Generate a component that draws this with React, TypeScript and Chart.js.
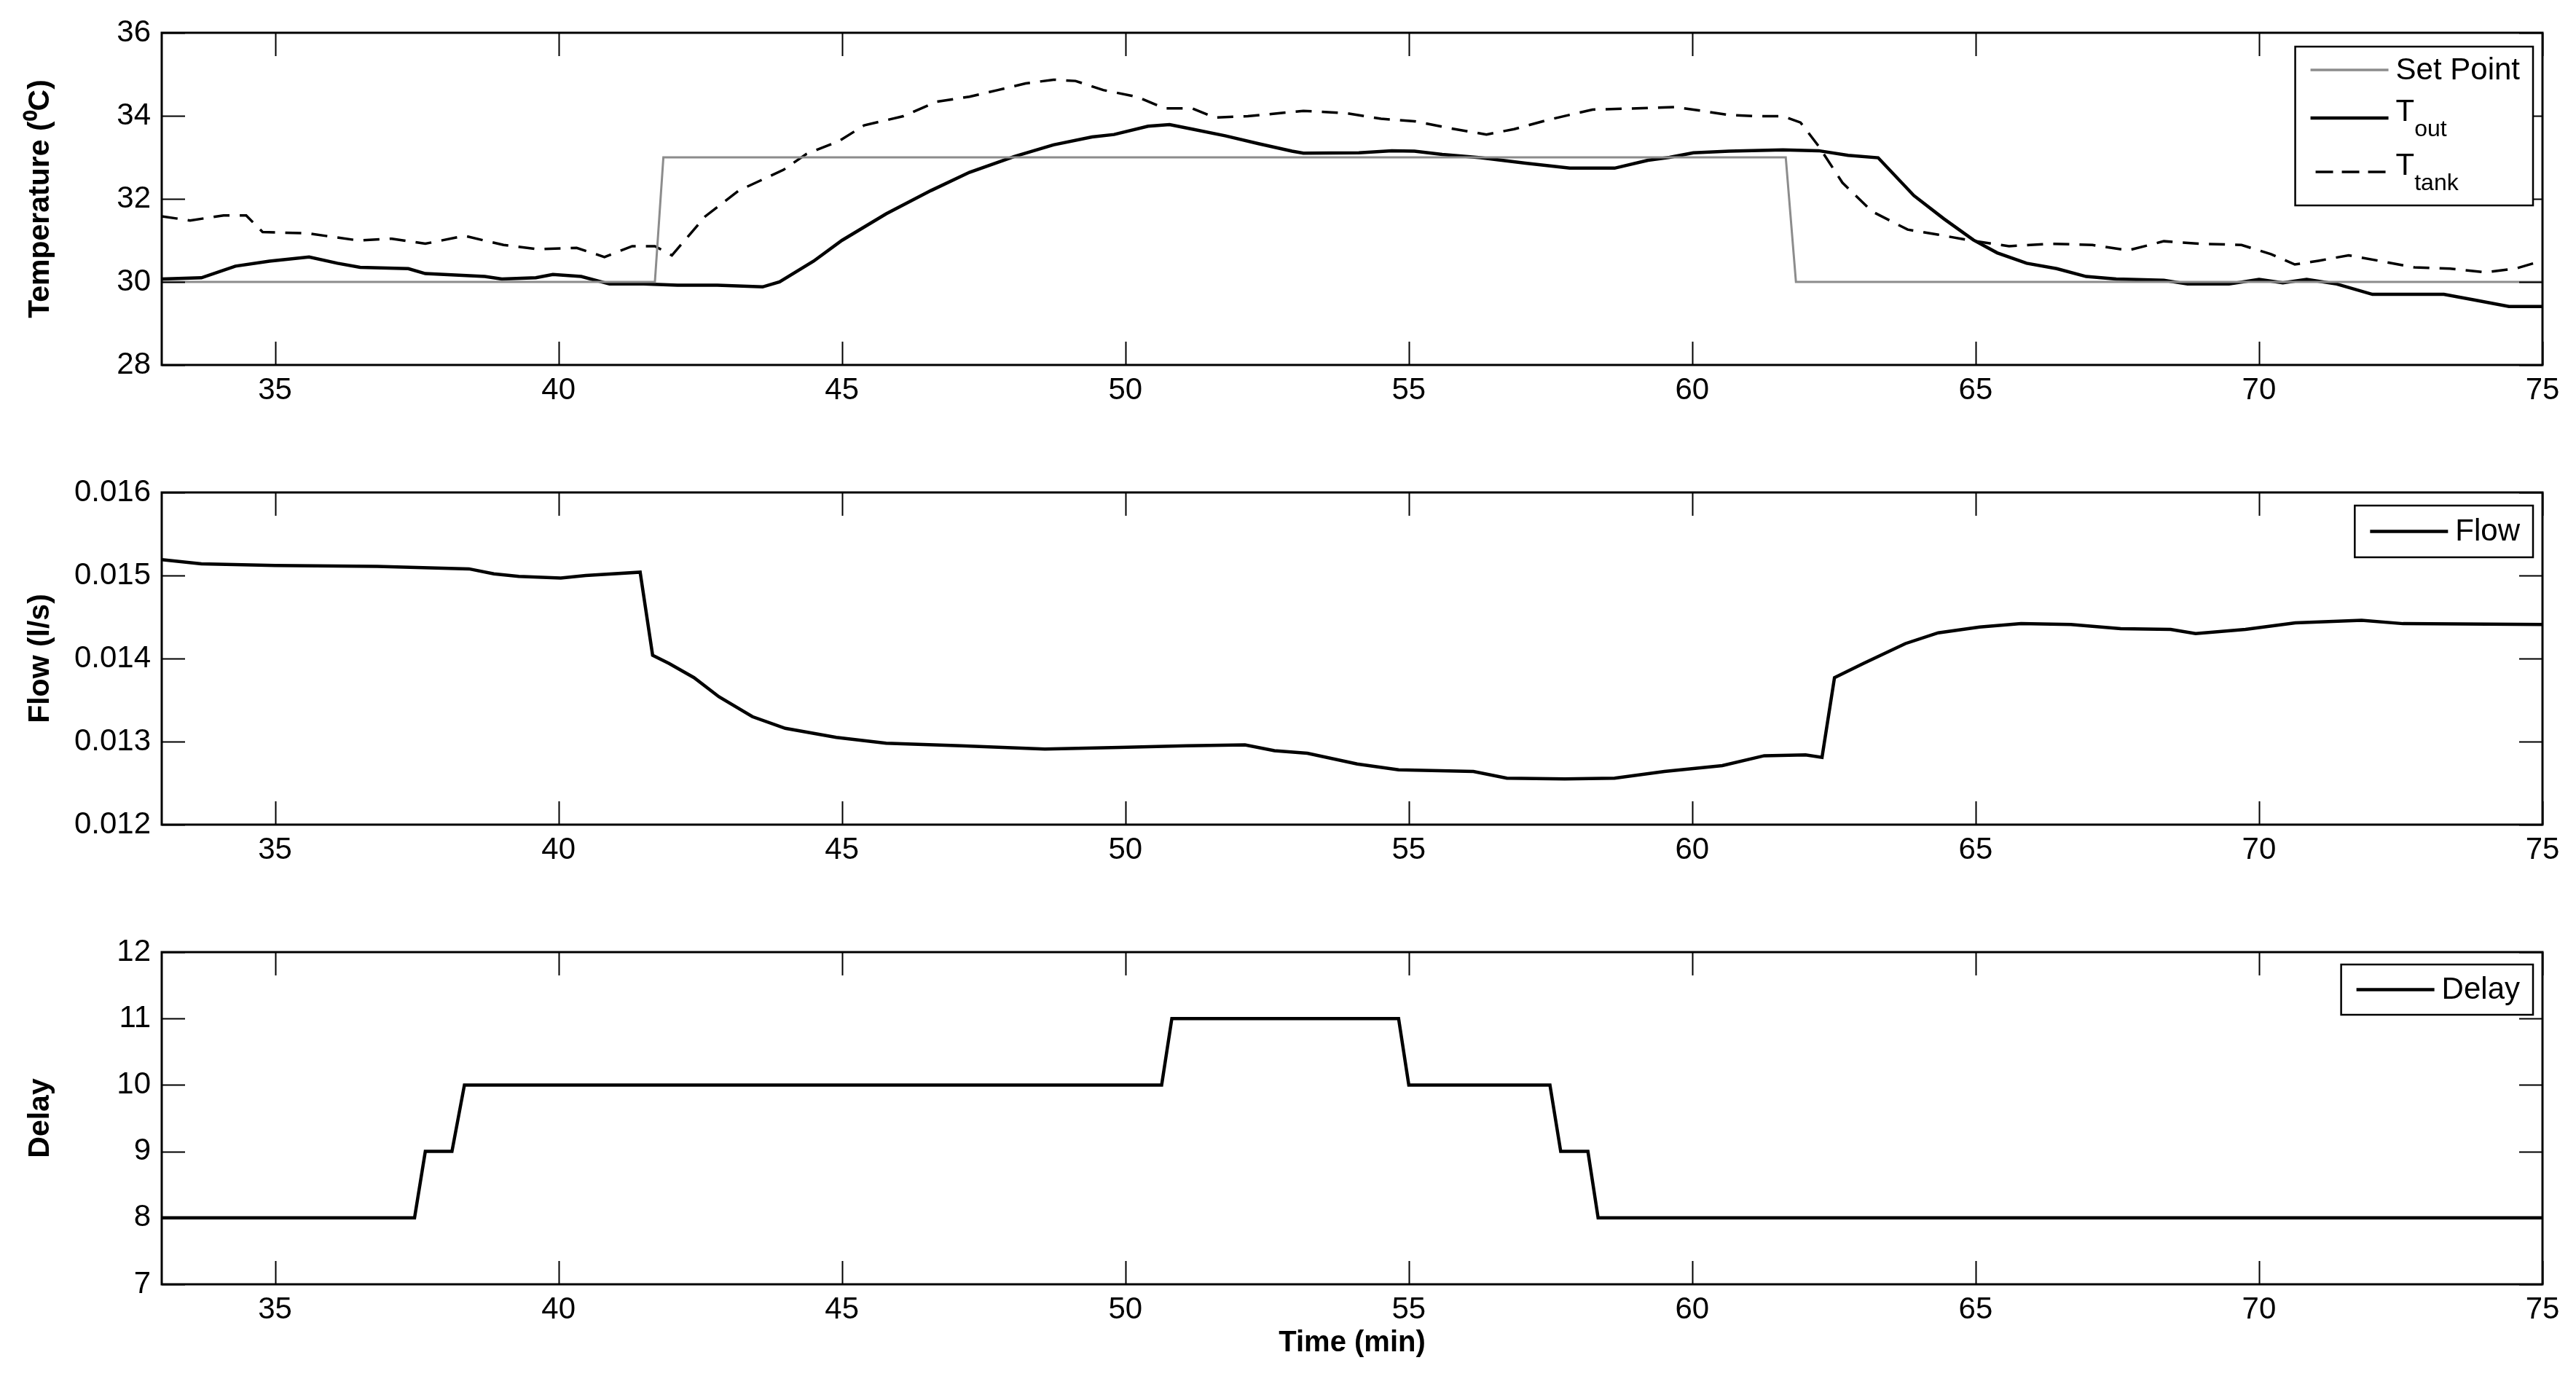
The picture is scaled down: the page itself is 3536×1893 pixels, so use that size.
import React, { useEffect, useRef } from "react";
import { Chart, registerables } from "chart.js";

Chart.register(...registerables);

// ---------- tick labels ----------
const timeTicks = [35, 40, 45, 50, 55, 60, 65, 70, 75];
const tempTicks = [28, 30, 32, 34, 36];
const flowTicks = [0.012, 0.013, 0.014, 0.015, 0.016];
const delayTicks = [7, 8, 9, 10, 11, 12];

// ---------- series ----------
const setPointTime = [33, 41.7, 41.85, 61.65, 61.83, 75];
const setPointVal = [30, 30, 33, 33, 30, 30];

const tOutTime = [
  33.0, 33.7, 34.3, 34.9, 35.6, 36.1, 36.5, 37.35, 37.65, 38.7, 39.0, 39.6, 39.9, 40.4, 40.9, 41.5,
  42.1, 42.8, 43.6, 43.9, 44.5, 45.0, 45.78, 46.57, 47.25, 48.04, 48.73, 49.41, 49.8, 50.4, 50.78,
  51.18, 51.76, 52.35, 52.94, 53.14, 54.12, 54.7, 55.1, 55.59, 56.27, 57.06, 57.84, 58.63, 59.22,
  59.6, 60.02, 60.65, 61.6, 62.23, 62.75, 63.28, 63.91, 64.44, 64.96, 65.38, 65.9, 66.43, 66.95,
  67.48, 68.32, 68.74, 69.47, 70.0, 70.42, 70.84, 71.37, 72.0, 73.26, 73.78, 74.41, 75.0,
];
const tOutVal = [
  30.07, 30.1, 30.38, 30.5, 30.6, 30.45, 30.35, 30.32, 30.2, 30.13, 30.07, 30.1, 30.18, 30.13, 29.95,
  29.95, 29.92, 29.92, 29.88, 30.0, 30.5, 31.0, 31.64, 32.2, 32.64, 33.02, 33.3, 33.49, 33.55, 33.75,
  33.79, 33.68, 33.52, 33.33, 33.15, 33.1, 33.11, 33.16, 33.15, 33.07, 32.99, 32.86, 32.74, 32.74,
  32.93, 33.0, 33.11, 33.15, 33.18, 33.16, 33.05, 32.99, 32.08, 31.52, 31.01, 30.7, 30.45, 30.32,
  30.13, 30.07, 30.04, 29.95, 29.95, 30.06, 29.98, 30.06, 29.95, 29.7, 29.7, 29.57, 29.41, 29.41,
];

const tTankTime = [
  33.0, 33.5, 34.09, 34.49, 34.78, 35.57, 36.46, 37.06, 37.65, 38.34, 39.03, 39.62, 40.32, 40.81,
  41.3, 41.7, 42.0, 42.59, 43.18, 43.97, 44.37, 44.96, 45.39, 46.08, 46.67, 47.25, 47.75, 48.24,
  48.73, 49.12, 49.61, 50.2, 50.69, 51.18, 51.57, 52.16, 53.14, 53.92, 54.51, 55.1, 55.69, 56.37,
  56.86, 57.45, 58.24, 59.02, 59.69, 60.02, 60.65, 61.18, 61.6, 61.91, 62.23, 62.65, 63.17, 63.8,
  64.33, 64.86, 65.59, 66.32, 67.06, 67.69, 68.32, 68.95, 69.69, 70.21, 70.63, 71.05, 71.58, 72.11,
  72.74, 73.37, 74.0, 74.52, 75.0,
];
const tTankVal = [
  31.58, 31.48, 31.6, 31.6, 31.2, 31.17, 31.0, 31.04, 30.92, 31.11, 30.89, 30.79, 30.82, 30.6, 30.86,
  30.86, 30.64, 31.58, 32.2, 32.7, 33.08, 33.4, 33.77, 33.99, 34.34, 34.46, 34.62, 34.78, 34.87,
  34.84, 34.62, 34.46, 34.18, 34.18, 33.96, 33.99, 34.12, 34.06, 33.93, 33.87, 33.71, 33.55, 33.68,
  33.9, 34.15, 34.18, 34.21, 34.15, 34.02, 33.99, 33.99, 33.84, 33.27, 32.39, 31.7, 31.26, 31.14,
  31.01, 30.86, 30.92, 30.89, 30.76, 30.98, 30.92, 30.89, 30.67, 30.42, 30.51, 30.64, 30.51, 30.35,
  30.32, 30.23, 30.32, 30.51,
];

const flowTime = [
  33.0, 33.7, 35.0, 36.8, 38.42, 38.86, 39.3, 40.04, 40.48, 41.44, 41.66, 41.95, 42.39, 42.83, 43.42,
  44.0, 44.9, 45.78, 47.1, 48.58, 49.9, 51.08, 52.11, 52.63, 53.21, 54.09, 54.82, 56.14, 56.73, 57.75,
  58.63, 59.51, 60.53, 61.27, 62.0, 62.29, 62.51, 63.02, 63.76, 64.34, 65.07, 65.8, 66.68, 67.56,
  68.44, 68.88, 69.76, 70.64, 71.81, 72.54, 75.0,
];
const flowVal = [
  0.01519, 0.01514, 0.01512, 0.01511, 0.01508, 0.01502, 0.01499, 0.01497, 0.015, 0.01504, 0.01404,
  0.01394, 0.01377, 0.01354, 0.0133, 0.01316, 0.01305, 0.01298, 0.01295, 0.01291, 0.01293, 0.01295,
  0.01296, 0.01289, 0.01286, 0.01273, 0.01266, 0.01264, 0.01256, 0.01255, 0.01256, 0.01264, 0.01271,
  0.01283, 0.01284, 0.01281, 0.01377, 0.01394, 0.01418, 0.01431, 0.01438, 0.01442, 0.01441, 0.01436,
  0.01435, 0.0143, 0.01435, 0.01443, 0.01446, 0.01442, 0.01441,
];

const delayTime = [33, 37.46, 37.65, 38.12, 38.34, 50.64, 50.82, 54.82, 55.0, 57.49, 57.68, 58.16, 58.34, 75];
const delayVal = [8, 8, 9, 9, 10, 10, 11, 11, 10, 10, 9, 9, 8, 8];

// ---------- styling ----------
const FONT = "'Liberation Sans', Arial, Helvetica, sans-serif";
const W = 3536;
const PANEL_H = 631;

type Pt = { x: number; y: number };
const zip = (t: number[], v: number[]): Pt[] => t.map((x, i) => ({ x, y: v[i] }));

type LegendItem = { label: string; sub?: string; color: string; width: number; dash?: number[] };

const framePlugin = {
  id: "matlabFrame",
  afterDatasetsDraw(chart: any) {
    const { ctx, chartArea: a, scales } = chart;
    const xs = scales.x;
    const ys = scales.y;
    const L = 32;
    ctx.save();
    ctx.strokeStyle = "#000";
    ctx.lineWidth = 2;
    ctx.beginPath();
    xs.ticks.forEach((t: any) => {
      const px = Math.round(xs.getPixelForValue(t.value)) + 0.5;
      ctx.moveTo(px, a.bottom);
      ctx.lineTo(px, a.bottom - L);
      ctx.moveTo(px, a.top);
      ctx.lineTo(px, a.top + L);
    });
    ys.ticks.forEach((t: any) => {
      const py = Math.round(ys.getPixelForValue(t.value)) + 0.5;
      ctx.moveTo(a.left, py);
      ctx.lineTo(a.left + L, py);
      ctx.moveTo(a.right, py);
      ctx.lineTo(a.right - L, py);
    });
    ctx.stroke();
    ctx.lineWidth = 3;
    ctx.strokeRect(a.left, a.top, a.right - a.left, a.bottom - a.top);
    ctx.restore();
  },
  afterDraw(chart: any, _args: any, opts: any) {
    if (!opts || !opts.items) return;
    const { ctx, chartArea: a } = chart;
    const items: LegendItem[] = opts.items;
    const rows: number[] = opts.rows;
    const mainFont = `42px ${FONT}`;
    const subFont = `32px ${FONT}`;
    ctx.save();
    let maxW = 0;
    items.forEach((it) => {
      ctx.font = mainFont;
      let w = ctx.measureText(it.label).width;
      if (it.sub) {
        ctx.font = subFont;
        w += ctx.measureText(it.sub).width;
      }
      maxW = Math.max(maxW, w);
    });
    const boxW = 138 + maxW + 18;
    const right = a.right - 13;
    const left = right - boxW;
    const top = a.top + opts.top;
    ctx.fillStyle = "#fff";
    ctx.fillRect(left, top, boxW, opts.height);
    ctx.strokeStyle = "#000";
    ctx.lineWidth = 2.5;
    ctx.strokeRect(left, top, boxW, opts.height);
    items.forEach((it, i) => {
      const yy = top + rows[i];
      ctx.beginPath();
      ctx.setLineDash(it.dash || []);
      ctx.strokeStyle = it.color;
      ctx.lineWidth = it.width;
      ctx.moveTo(left + (it.dash ? 28 : 21), yy);
      ctx.lineTo(left + 128, yy);
      ctx.stroke();
      ctx.setLineDash([]);
      ctx.fillStyle = "#000";
      ctx.textAlign = "left";
      if (it.sub) {
        ctx.font = mainFont;
        ctx.textBaseline = "alphabetic";
        ctx.fillText(it.label, left + 138, yy + 4);
        const tw = ctx.measureText(it.label).width;
        ctx.font = subFont;
        ctx.fillText(it.sub, left + 138 + tw, yy + 25);
      } else {
        ctx.font = mainFont;
        ctx.textBaseline = "middle";
        ctx.fillText(it.label, left + 138, yy + 1);
      }
    });
    ctx.restore();
  },
};

function makeOptions(
  yMin: number,
  yMax: number,
  yTicks: number[],
  yTitle: string,
  legend: any,
  showXTitle: boolean,
  fmt: (v: number) => string
): any {
  return {
    responsive: false,
    animation: false,
    events: [],
    layout: { padding: { top: 45, right: 46, left: 0, bottom: 0 } },
    elements: { point: { radius: 0 }, line: { tension: 0 } },
    plugins: {
      legend: { display: false },
      tooltip: { enabled: false },
      matlabFrame: legend,
    },
    scales: {
      x: {
        type: "linear",
        min: 33,
        max: 75,
        grid: { display: false, drawTicks: false },
        border: { display: false },
        afterBuildTicks: (s: any) => {
          s.ticks = timeTicks.map((v) => ({ value: v }));
        },
        afterFit: (s: any) => {
          s.height = 130;
        },
        ticks: {
          color: "#000",
          padding: 10,
          maxRotation: 0,
          autoSkip: false,
          font: { family: FONT, size: 42 },
          callback: (v: any) => String(v),
        },
        title: {
          display: showXTitle,
          text: "Time (min)",
          color: "#000",
          font: { family: FONT, size: 40, weight: "bold" },
          padding: { top: 0, bottom: 25 },
        },
      },
      y: {
        type: "linear",
        min: yMin,
        max: yMax,
        grid: { display: false, drawTicks: false },
        border: { display: false },
        afterBuildTicks: (s: any) => {
          s.ticks = yTicks.map((v) => ({ value: v }));
        },
        afterFit: (s: any) => {
          s.width = 222;
        },
        ticks: {
          color: "#000",
          padding: 15,
          autoSkip: false,
          font: { family: FONT, size: 42 },
          callback: (v: any) => fmt(Number(v)),
        },
        title: {
          display: true,
          text: yTitle,
          color: "#000",
          font: { family: FONT, size: 41, weight: "bold" },
          padding: { top: 31, bottom: 0 },
        },
      },
    },
  };
}

function Panel({ config }: { config: any }) {
  const ref = useRef<HTMLCanvasElement | null>(null);
  useEffect(() => {
    if (!ref.current) return;
    const chart = new Chart(ref.current, { ...config, plugins: [framePlugin] });
    return () => chart.destroy();
  }, [config]);
  return <canvas ref={ref} width={W} height={PANEL_H} style={{ display: "block", width: W, height: PANEL_H }} />;
}

const tempConfig = {
  type: "line",
  data: {
    datasets: [
      { label: "Set Point", data: zip(setPointTime, setPointVal), borderColor: "#8c8c8c", borderWidth: 3 },
      { label: "T_out", data: zip(tOutTime, tOutVal), borderColor: "#000", borderWidth: 4.5 },
      { label: "T_tank", data: zip(tTankTime, tTankVal), borderColor: "#000", borderWidth: 3.5, borderDash: [22, 14] },
    ],
  },
  options: makeOptions(
    28,
    36,
    tempTicks,
    "Temperature (\u2070C)",
    {
      top: 19,
      height: 218,
      rows: [32, 98, 172],
      items: [
        { label: "Set Point", color: "#8c8c8c", width: 3.5 },
        { label: "T", sub: "out", color: "#000", width: 4.5 },
        { label: "T", sub: "tank", color: "#000", width: 3.5, dash: [24, 12] },
      ],
    },
    false,
    (v) => String(v)
  ),
};

const flowConfig = {
  type: "line",
  data: {
    datasets: [{ label: "Flow", data: zip(flowTime, flowVal), borderColor: "#000", borderWidth: 4.5 }],
  },
  options: makeOptions(
    0.012,
    0.016,
    flowTicks,
    "Flow (l/s)",
    { top: 18, height: 71, rows: [35.5], items: [{ label: "Flow", color: "#000", width: 4.5 }] },
    false,
    (v) => v.toFixed(3)
  ),
};

const delayConfig = {
  type: "line",
  data: {
    datasets: [{ label: "Delay", data: zip(delayTime, delayVal), borderColor: "#000", borderWidth: 4.5 }],
  },
  options: makeOptions(
    7,
    12,
    delayTicks,
    "Delay",
    { top: 17, height: 69, rows: [34.5], items: [{ label: "Delay", color: "#000", width: 4.5 }] },
    true,
    (v) => String(v)
  ),
};

export default function App() {
  return (
    <div style={{ position: "absolute", left: 0, top: 0, width: W, height: PANEL_H * 3, background: "#fff" }}>
      <Panel config={tempConfig} />
      <Panel config={flowConfig} />
      <Panel config={delayConfig} />
    </div>
  );
}
